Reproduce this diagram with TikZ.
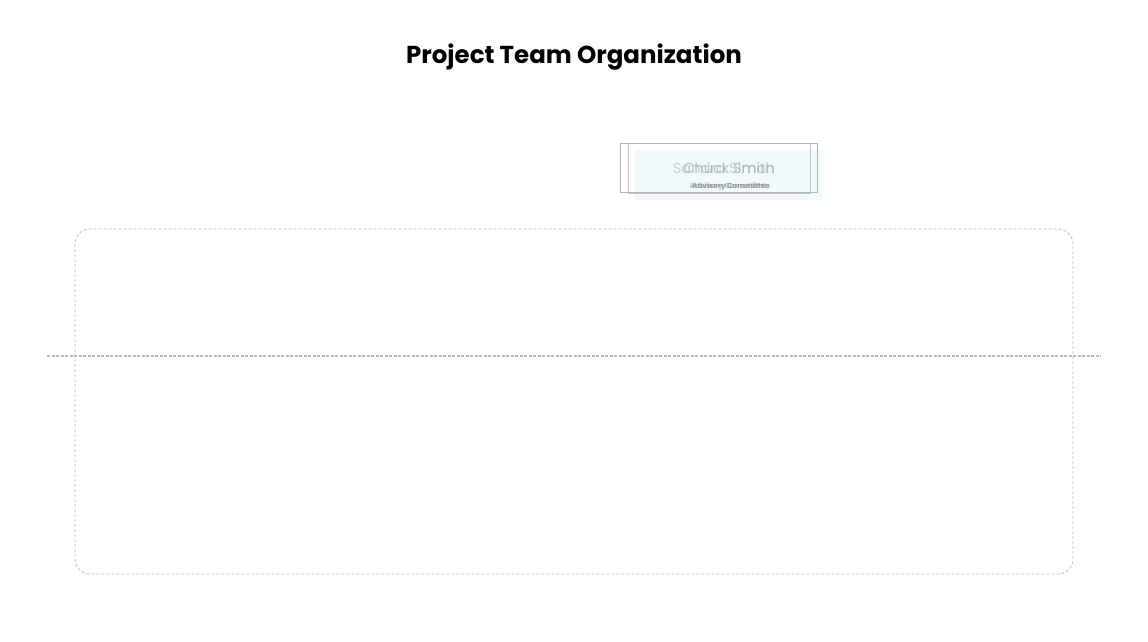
\documentclass[tikz,border=0pt]{standalone}
\usepackage{fontspec}
\setmainfont{Poppins}
\definecolor{dashgrey}{HTML}{C0C0C0}
\definecolor{divgrey}{HTML}{B8B8B8}
\definecolor{boxgrey}{HTML}{B4B4B4}
\definecolor{ghostfill}{HTML}{F0FAFC}
\definecolor{nametext}{HTML}{B8B8B8}
\definecolor{roletext}{HTML}{9A9A9A}
\begin{document}
\begin{tikzpicture}[x=1pt,y=-1pt,
  frame/.style={draw=dashgrey,line width=0.9pt,dash pattern=on 3pt off 2pt,rounded corners=15pt},
  divider/.style={draw=divgrey,line width=1.1pt,dash pattern=on 3pt off 1.5pt},
  ghostbox/.style={draw=boxgrey,line width=1pt},
  nametxt/.style={text=nametext,font=\fontsize{14.5}{16}\selectfont,inner sep=0pt},
  roletxt/.style={text=roletext,font=\bfseries\fontsize{7.3}{8}\selectfont,inner sep=0pt}]
\useasboundingbox (0,0) rectangle (1148,641);
\fill[white] (0,0) rectangle (1148,641);
\node[font=\bfseries\fontsize{24.5}{28}\selectfont,inner sep=0pt] (title) at (574,57) {Project Team Organization};
% ghost card
\fill[ghostfill] (635,150) rectangle (822,200);
\draw[ghostbox] (620,143) rectangle (817,192);
\draw[ghostbox,opacity=0.8] (628,143) rectangle (810,193);
\node[nametxt,opacity=0.7] (nameA) at (724,168) {Sandra Simon};
\node[nametxt,text=gray!70,opacity=0.7] (nameB) at (729,168) {Chuck Smith};
\node[roletxt] (roleA) at (731,187) {Advisory Committee};
\node[roletxt,opacity=0.6] (roleB) at (728,187) {Advisory Consultant};
% frame and divider
\draw[frame] (75,229) rectangle (1073,574);
\draw[divider] (47,356) -- (1101,356);
\end{tikzpicture}
\end{document}
